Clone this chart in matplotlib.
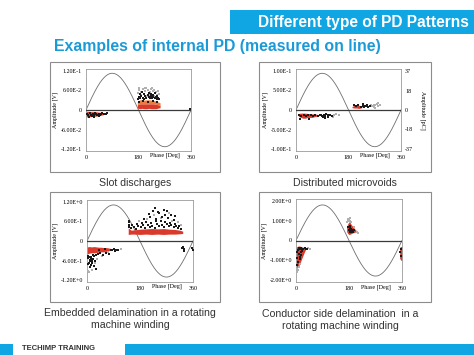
import numpy as np
import matplotlib
matplotlib.use("Agg")
import matplotlib.pyplot as plt
from matplotlib.patches import Rectangle

W, H = 474, 355
BLUE = "#10a6e4"
SUB_BLUE = "#1b9ad8"
RED = "#d93a2b"
ORANGE = "#f07a3a"
DARK = "#1a1a1a"
GREY = "#b0b0b0"
SERIF = "Liberation Serif"
SANS = "Liberation Sans"

###############################################################################
# data

PANEL_TITLES = ["Slot discharges", "Distributed microvoids",
                "Embedded delamination in a rotating\nmachine winding",
                "Conductor side delamination  in a\nrotating machine winding"]

X_TICKS = [0, 180, 360]
X_LABELS = ["0", "180", "360"]

# y ticks of each panel (left axis, volts)
P1_YTICKS = [0.12, 0.06, 0, -0.06, -0.12]
P1_YLABELS = ["1.20E-1", "6.00E-2", "0", "-6.00E-2", "-1.20E-1"]
P2_YTICKS = [0.1, 0.05, 0, -0.05, -0.1]
P2_YLABELS = ["1.00E-1", "5.00E-2", "0", "-5.00E-2", "-1.00E-1"]
P2_RTICKS = [37, 18, 0, -18, -37]
P3_YTICKS = [1.2, 0.6, 0, -0.6, -1.2]
P3_YLABELS = ["1.20E+0", "6.00E-1", "0", "-6.00E-1", "-1.20E+0"]
P4_YTICKS = [2.0, 1.0, 0, -1.0, -2.0]
P4_YLABELS = ["2.00E+0", "1.00E+0", "0", "-1.00E+0", "-2.00E+0"]

YLIMS = [0.125, 0.105, 1.25, 2.1]
SINE_AMPS = [0.112, 0.094, 1.10, 1.80]

# panel 1 : slot discharges
P1_NEG_PH = [0, 8, 16, 24, 32, 40, 48, 56, 64, 70]
P1_NEG_LO = [-0.021, -0.021, -0.020, -0.020, -0.019, -0.018, -0.017, -0.015, -0.013, -0.011]
P1_NEG_HI = [-0.004, -0.004, -0.005, -0.005, -0.005, -0.006, -0.007, -0.008, -0.008, -0.009]
P1_POS_PH = [176, 184, 192, 200, 208, 216, 224, 232, 240, 248, 254]
P1_POS_LO = [0.006, 0.004, 0.005, 0.004, 0.004, 0.005, 0.004, 0.004, 0.004, 0.006, 0.007]
P1_POS_MID = [0.016, 0.019, 0.019, 0.019, 0.019, 0.019, 0.019, 0.019, 0.017, 0.016, 0.015]
P1_POS_HI = [0.026, 0.031, 0.032, 0.030, 0.031, 0.031, 0.030, 0.029, 0.027, 0.024, 0.022]
P1_BLACK = [(3, -0.012), (7, -0.016), (12, -0.010), (16, -0.014), (20, -0.018), (24, -0.011),
            (28, -0.015), (31, -0.009), (35, -0.013), (39, -0.016), (43, -0.011), (47, -0.014),
            (52, -0.012), (56, -0.010), (60, -0.013), (64, -0.011), (68, -0.012), (72, -0.010),
            (10, -0.022), (26, -0.021), (44, -0.019),
            (177, 0.034), (182, 0.040), (186, 0.036), (190, 0.044), (194, 0.038), (198, 0.035),
            (203, 0.042), (207, 0.037), (211, 0.046), (215, 0.039), (219, 0.036), (223, 0.043),
            (227, 0.038), (231, 0.041), (235, 0.036), (239, 0.040), (243, 0.035), (247, 0.037),
            (251, 0.033), (185, 0.048), (200, 0.050), (215, 0.052), (230, 0.047), (245, 0.044),
            (192, 0.055), (222, 0.049), (238, 0.051), (180, 0.024), (196, 0.027), (212, 0.025),
            (228, 0.026), (244, 0.023), (358, 0.004)]
P1_GREY = [(178, 0.052), (183, 0.060), (189, 0.056), (195, 0.064), (201, 0.058), (206, 0.066),
           (212, 0.061), (218, 0.055), (224, 0.063), (229, 0.057), (234, 0.060), (240, 0.054),
           (246, 0.058), (251, 0.050), (187, 0.045), (198, 0.049), (209, 0.044), (220, 0.046),
           (232, 0.043), (243, 0.047), (180, 0.066), (204, 0.068), (226, 0.067)]

# panel 2 : distributed microvoids
P2_NEG_PH = [8, 16, 24, 32, 40, 48, 56, 64, 72, 80]
P2_NEG_LO = [-0.016, -0.019, -0.021, -0.021, -0.019, -0.019, -0.019, -0.017, -0.016, -0.014]
P2_NEG_HI = [-0.009, -0.008, -0.008, -0.008, -0.009, -0.009, -0.010, -0.010, -0.011, -0.012]
P2_POS_PH = [192, 200, 208, 216, 226]
P2_POS_LO = [0.006, 0.005, 0.005, 0.004, 0.006]
P2_POS_HI = [0.009, 0.012, 0.012, 0.012, 0.010]
P2_BLACK = [(10, -0.013), (18, -0.016), (26, -0.012), (34, -0.015), (42, -0.014), (50, -0.012),
            (58, -0.016), (66, -0.013), (74, -0.015), (82, -0.014), (86, -0.012), (90, -0.016),
            (95, -0.013), (100, -0.015), (104, -0.011), (110, -0.014), (116, -0.012),
            (122, -0.016), (92, -0.019), (99, -0.021), (108, -0.018), (14, -0.022), (46, -0.023),
            (198, 0.013), (206, 0.010), (214, 0.014), (222, 0.008), (228, 0.010), (232, 0.007),
            (236, 0.011), (240, 0.009), (244, 0.012), (248, 0.008), (252, 0.010), (230, 0.015),
            (242, 0.014)]
P2_GREY = [(130, -0.013), (138, -0.011), (148, -0.012), (126, -0.018), (256, 0.011),
           (258, 0.014), (262, 0.009), (266, 0.008), (268, 0.012), (272, 0.012), (276, 0.016),
           (282, 0.010), (288, 0.013), (270, 0.006), (280, 0.018)]

# panel 3 : embedded delamination
P3_NEG_PH = [0, 8, 16, 24, 32, 40, 48, 56, 64, 72, 82]
P3_NEG_LO = [-0.40, -0.37, -0.36, -0.36, -0.35, -0.34, -0.33, -0.33, -0.32, -0.30, -0.28]
P3_NEG_HI = [-0.18, -0.17, -0.18, -0.17, -0.18, -0.19, -0.19, -0.20, -0.20, -0.21, -0.23]
P3_POS_PH = [140, 150, 160, 180, 200, 220, 240, 260, 280, 300, 315, 325]
P3_POS_LO = [0.20, 0.21, 0.21, 0.20, 0.21, 0.20, 0.21, 0.20, 0.21, 0.21, 0.22, 0.23]
P3_POS_HI = [0.40, 0.33, 0.34, 0.36, 0.37, 0.38, 0.37, 0.38, 0.36, 0.35, 0.33, 0.30]
P3_BLACK = [(3, -0.45), (5, -0.52), (8, -0.48), (11, -0.58), (14, -0.50), (17, -0.62),
            (20, -0.55), (23, -0.47), (27, -0.60), (31, -0.44), (6, -0.66), (12, -0.72),
            (18, -0.68), (24, -0.75), (9, -0.80), (15, -0.56), (21, -0.42), (4, -0.70),
            (36, -0.40), (45, -0.38), (55, -0.42), (65, -0.36), (75, -0.40), (85, -0.28),
            (90, -0.25), (95, -0.30), (100, -0.27), (105, -0.26), (40, -0.26), (60, -0.25),
            (80, -0.26), (30, -0.85), (10, -0.62), (326, -0.18), (328, -0.25), (331, -0.30),
            (324, -0.22), (356, -0.22), (359, -0.28),
            (141, 0.42), (142, 0.50), (143, 0.58), (141, 0.62), (142, 0.46), (150, 0.40),
            (158, 0.44), (166, 0.38), (174, 0.46), (182, 0.42), (190, 0.48), (198, 0.40),
            (206, 0.50), (214, 0.44), (222, 0.47), (230, 0.41), (238, 0.52), (246, 0.45),
            (254, 0.49), (262, 0.43), (270, 0.51), (278, 0.46), (286, 0.48), (294, 0.42),
            (302, 0.45), (310, 0.40), (318, 0.38), (154, 0.48), (170, 0.52), (186, 0.55),
            (202, 0.58), (218, 0.56), (234, 0.60), (250, 0.62), (266, 0.58), (282, 0.55),
            (298, 0.52), (314, 0.46), (195, 0.68), (215, 0.72), (235, 0.66), (255, 0.74),
            (275, 0.70), (295, 0.64), (210, 0.82), (245, 0.86), (265, 0.80), (285, 0.78),
            (225, 0.90), (300, 0.76), (230, 1.00), (260, 0.95), (240, 0.88), (270, 0.92)]
P3_GREY = [(178, 0.62), (205, 0.66), (228, 0.78), (252, 0.70), (278, 0.84), (290, 0.62),
           (310, 0.58), (320, 0.50), (2, -0.90), (7, -0.95), (16, -0.88), (26, -0.68),
           (34, -0.55), (50, -0.45), (70, -0.34), (115, -0.25)]

# panel 4 : conductor side delamination
P4_NEG_PH = [0, 4, 8, 12, 16, 20, 24, 28, 32]
P4_NEG_LO = [-1.25, -1.40, -1.30, -1.20, -1.05, -0.90, -0.75, -0.60, -0.48]
P4_NEG_HI = [-0.35, -0.30, -0.28, -0.28, -0.30, -0.32, -0.34, -0.36, -0.40]
P4_END_PH = [352, 356, 360]
P4_END_LO = [-0.90, -1.00, -1.00]
P4_END_HI = [-0.35, -0.30, -0.30]
P4_POS_PH = [172, 176, 180, 184, 188, 192, 196, 200, 204]
P4_POS_LO = [0.45, 0.35, 0.30, 0.32, 0.35, 0.38, 0.40, 0.42, 0.45]
P4_POS_HI = [0.70, 0.85, 0.95, 0.90, 0.80, 0.72, 0.65, 0.58, 0.52]
P4_BLACK = [(2, -0.60), (4, -0.90), (6, -0.50), (8, -1.10), (10, -0.70), (12, -0.45),
            (14, -0.85), (16, -0.60), (18, -0.40), (20, -0.55), (22, -0.45), (5, -1.25),
            (9, -0.40), (13, -0.95), (17, -0.75), (25, -0.42), (30, -0.40), (34, -0.45),
            (38, -0.42), (354, -0.60), (357, -0.80), (358, -0.45),
            (180, 0.55), (182, 0.65), (184, 0.50), (186, 0.60), (188, 0.45), (190, 0.55),
            (192, 0.50), (185, 0.75), (194, 0.45), (196, 0.52), (178, 0.70), (183, 0.42)]
P4_GREY = [(2, -1.45), (4, -1.60), (7, -1.50), (10, -1.35), (14, -1.20), (1, -1.30),
           (176, 1.00), (178, 1.10), (180, 1.05), (182, 1.15), (184, 0.98), (188, 0.92),
           (206, 0.45), (210, 0.40), (198, 0.70), (174, 0.95), (42, -0.40), (46, -0.44)]

###############################################################################

FIG_POS = [(86, 69, 191, 151), (296, 69, 401, 151), (87, 200, 193, 282), (296, 199, 402, 282)]
FRAMES = [(50, 62, 220, 172), (259, 62, 431, 172), (50, 192, 220, 302), (259, 192, 431, 302)]
CAPTION_XY = [(135, 183), (345, 183), (130, 319), (340, 320)]


def px_rect(x0, y0, x1, y1):
    ''' Converts a pixel box (top-left origin) to a figure-fraction [l, b, w, h] '''
    return [x0 / W, 1 - y1 / H, (x1 - x0) / W, (y1 - y0) / H]


def style_axes(ax, ylim, yticks, ylabels, amp):
    ''' Draws the frame, sine reference, zero line and ticks of one PRPD panel '''
    ax.set_xlim(0, 360)
    ax.set_ylim(-ylim, ylim)
    for s in ax.spines.values():
        s.set_color("#9a9a9a")
        s.set_linewidth(0.6)
    ax.set_xticks(X_TICKS)
    ax.set_xticklabels(X_LABELS, fontsize=4.3, family=SERIF)
    ax.set_yticks(yticks)
    ax.set_yticklabels(ylabels, fontsize=4.3, family=SERIF)
    ax.tick_params(length=0, pad=3)
    ax.text(270, -ylim * 1.115, "Phase [Deg]", ha="center", va="center",
            fontsize=4.3, family=SERIF)
    ph = np.linspace(0, 360, 361)
    ax.plot(ph, amp * np.sin(np.radians(ph)), color="#6e6e6e", lw=0.6, zorder=1)
    ax.axhline(0, color="#3a3a3a", lw=0.9, zorder=4)


def cloud(ax, ph, lo, hi, color):
    ''' Dense part of a discharge cluster '''
    ax.fill_between(ph, lo, hi, color=color, lw=0, zorder=2)


def dots(ax, pts, color, size=0.8):
    ''' Sparse discharge pulses '''
    x, y = zip(*pts)
    ax.scatter(x, y, s=size, c=color, marker="s", lw=0, zorder=3)


###############################################################################

fig = plt.figure(figsize=(W / 100, H / 100), dpi=100)

# header / footer bars
fig.add_artist(Rectangle((230 / W, 1 - 34 / H), 244 / W, 24 / H, color=BLUE, lw=0))
fig.text(469 / W, 1 - 22 / H, "Different type of PD Patterns", color="white",
         fontsize=11.2, weight="bold", family=SANS, ha="right", va="center")
fig.text(54 / W, 1 - 47 / H, "Examples of internal PD (measured on line)", color=SUB_BLUE,
         fontsize=11.4, weight="bold", family=SANS, ha="left", va="center")
fig.add_artist(Rectangle((0, 0), 13 / W, 11 / H, color=BLUE, lw=0))
fig.add_artist(Rectangle((125 / W, 0), 349 / W, 11 / H, color=BLUE, lw=0))
fig.text(22 / W, 1 - 348 / H, "TECHIMP TRAINING", color="#333333", fontsize=5.5,
         weight="bold", family=SANS, ha="left", va="center")

for (x0, y0, x1, y1) in FRAMES:
    fig.add_artist(Rectangle((x0 / W, 1 - y1 / H), (x1 - x0) / W, (y1 - y0) / H,
                             fill=False, ec="#8c8c8c", lw=0.8))

for (x, y), txt in zip(CAPTION_XY, PANEL_TITLES):
    fig.text(x / W, 1 - y / H, txt, ha="center", va="center", fontsize=7.6,
             family=SANS, color="#333333", linespacing=1.15)

axes = [fig.add_axes(px_rect(*p)) for p in FIG_POS]

# panel 1
ax = axes[0]
style_axes(ax, YLIMS[0], P1_YTICKS, P1_YLABELS, SINE_AMPS[0])
cloud(ax, P1_NEG_PH, P1_NEG_LO, P1_NEG_HI, RED)
cloud(ax, P1_POS_PH, P1_POS_LO, P1_POS_MID, RED)
cloud(ax, P1_POS_PH, P1_POS_MID, P1_POS_HI, ORANGE)
dots(ax, P1_GREY, GREY, 1.2)
dots(ax, P1_BLACK, DARK)
ax.set_ylabel("Amplitude [V]", fontsize=4.3, family=SERIF, labelpad=2)

# panel 2
ax = axes[1]
style_axes(ax, YLIMS[1], P2_YTICKS, P2_YLABELS, SINE_AMPS[1])
cloud(ax, P2_NEG_PH, P2_NEG_LO, P2_NEG_HI, RED)
cloud(ax, P2_POS_PH, P2_POS_LO, P2_POS_HI, RED)
dots(ax, P2_GREY, GREY, 1.2)
dots(ax, P2_BLACK, DARK)
ax.set_ylabel("Amplitude [V]", fontsize=4.3, family=SERIF, labelpad=2)
rax = ax.twinx()
rax.set_ylim(-YLIMS[1] * 370, YLIMS[1] * 370)
rax.set_yticks(P2_RTICKS)
rax.set_yticklabels([str(t) for t in P2_RTICKS], fontsize=4.3, family=SERIF)
rax.tick_params(length=0, pad=3)
for s in rax.spines.values():
    s.set_visible(False)
rax.set_ylabel("Amplitude [pC]", fontsize=4.3, family=SERIF, rotation=270, labelpad=9)

# panel 3
ax = axes[2]
style_axes(ax, YLIMS[2], P3_YTICKS, P3_YLABELS, SINE_AMPS[2])
cloud(ax, P3_NEG_PH, P3_NEG_LO, P3_NEG_HI, RED)
cloud(ax, P3_POS_PH, P3_POS_LO, P3_POS_HI, RED)
dots(ax, P3_GREY, GREY, 1.2)
dots(ax, P3_BLACK, DARK)
ax.set_ylabel("Amplitude [V]", fontsize=4.3, family=SERIF, labelpad=2)

# panel 4
ax = axes[3]
style_axes(ax, YLIMS[3], P4_YTICKS, P4_YLABELS, SINE_AMPS[3])
cloud(ax, P4_NEG_PH, P4_NEG_LO, P4_NEG_HI, RED)
cloud(ax, P4_END_PH, P4_END_LO, P4_END_HI, RED)
cloud(ax, P4_POS_PH, P4_POS_LO, P4_POS_HI, RED)
dots(ax, P4_GREY, GREY, 1.2)
dots(ax, P4_BLACK, DARK)
ax.set_ylabel("Amplitude [V]", fontsize=4.3, family=SERIF, labelpad=2)

fig.savefig("out.png", dpi=100)
